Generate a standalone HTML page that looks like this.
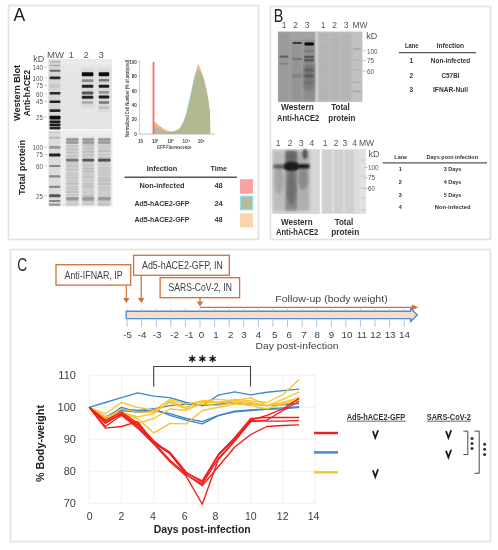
<!DOCTYPE html>
<html><head><meta charset="utf-8"><style>html,body{margin:0;padding:0;background:#fff;width:498px;height:550px;overflow:hidden}svg{display:block;filter:blur(0.35px)}text{font-family:"Liberation Sans",sans-serif}</style></head><body>
<svg width="498" height="550" viewBox="0 0 498 550">
<defs><filter id="b05" x="-30%" y="-150%" width="160%" height="400%"><feGaussianBlur stdDeviation="0.6"/></filter><filter id="b06" x="-30%" y="-150%" width="160%" height="400%"><feGaussianBlur stdDeviation="0.7"/></filter><filter id="b1" x="-30%" y="-200%" width="160%" height="500%"><feGaussianBlur stdDeviation="0.8"/></filter><filter id="b2" x="-40%" y="-60%" width="180%" height="220%"><feGaussianBlur stdDeviation="1.5"/></filter></defs>
<rect width="498" height="550" fill="#fff"/>
<rect x="8.5" y="5.5" width="250.0" height="234.0" fill="none" stroke="#e2e2e2" stroke-width="1.6"/>
<rect x="270.5" y="6.5" width="220.0" height="233.0" fill="none" stroke="#e2e2e2" stroke-width="1.6"/>
<rect x="10.5" y="249.5" width="480.0" height="292.0" fill="none" stroke="#e2e2e2" stroke-width="1.6"/>
<text x="13.5" y="20.6" font-size="17.5" text-anchor="start" font-weight="normal" fill="#222" >A</text>
<rect x="48" y="59" width="64" height="70.5" fill="#e6e6e6"/>
<rect x="48" y="59" width="64" height="6" fill="#eaeaea" filter="url(#b05)"/>
<rect x="48" y="130.5" width="64.5" height="76" fill="#eeeeee"/>
<rect x="48" y="129.3" width="64.5" height="1.4" fill="#f8f8f8"/>
<rect x="49" y="60" width="11.5" height="69" fill="#d6d6d6" filter="url(#b05)"/>
<rect x="49.5" y="61.0" width="11.0" height="1.6" fill="#b5b5b5" opacity="1" filter="url(#b06)" rx="1"/>
<rect x="49.5" y="64.7" width="11.0" height="1.6" fill="#aaa" opacity="1" filter="url(#b06)" rx="1"/>
<rect x="49.5" y="69.75" width="11.0" height="2.1" fill="#666" opacity="1" filter="url(#b06)" rx="1"/>
<rect x="49.5" y="76.60000000000001" width="11.0" height="2.6" fill="#2a2a2a" opacity="1" filter="url(#b06)" rx="1"/>
<rect x="49.5" y="84.4" width="11.0" height="3.6" fill="#c8c8c8" opacity="1" filter="url(#b06)" rx="1"/>
<rect x="49.5" y="92.0" width="11.0" height="2.6" fill="#2a2a2a" opacity="1" filter="url(#b06)" rx="1"/>
<rect x="49.5" y="100.5" width="11.0" height="2.6" fill="#222" opacity="1" filter="url(#b06)" rx="1"/>
<rect x="49.5" y="109.3" width="11.0" height="2.6" fill="#2a2a2a" opacity="1" filter="url(#b06)" rx="1"/>
<rect x="49.5" y="115.8" width="11.0" height="3.6" fill="#0a0a0a" opacity="1" filter="url(#b06)" rx="1"/>
<rect x="49.5" y="120.5" width="11.0" height="2.6" fill="#1a1a1a" opacity="1" filter="url(#b06)" rx="1"/>
<rect x="49.5" y="123.60000000000001" width="11.0" height="2.6" fill="#1a1a1a" opacity="1" filter="url(#b06)" rx="1"/>
<rect x="49.5" y="126.8" width="11.0" height="2.6" fill="#2a2a2a" opacity="1" filter="url(#b06)" rx="1"/>
<rect x="81" y="68" width="13" height="40" fill="#d8d8d8" filter="url(#b1)"/>
<rect x="98" y="68" width="12" height="44" fill="#d8d8d8" filter="url(#b1)"/>
<rect x="81.8" y="72.3" width="11.5" height="4.0" fill="#0a0a0a" opacity="1" filter="url(#b06)" rx="1"/>
<rect x="81.8" y="79.3" width="11.5" height="2.6" fill="#8a8a8a" opacity="1" filter="url(#b06)" rx="1"/>
<rect x="81.8" y="84.7" width="11.5" height="3.0" fill="#222" opacity="1" filter="url(#b06)" rx="1"/>
<rect x="81.8" y="91.5" width="11.5" height="3.0" fill="#555" opacity="1" filter="url(#b06)" rx="1"/>
<rect x="81.8" y="95.7" width="11.5" height="3.0" fill="#222" opacity="1" filter="url(#b06)" rx="1"/>
<rect x="81.8" y="101.2" width="11.5" height="2.6" fill="#aaa" opacity="1" filter="url(#b06)" rx="1"/>
<rect x="98.7" y="72.3" width="10.5" height="4.0" fill="#0a0a0a" opacity="1" filter="url(#b06)" rx="1"/>
<rect x="98.7" y="78.9" width="10.5" height="2.6" fill="#777" opacity="1" filter="url(#b06)" rx="1"/>
<rect x="98.7" y="84.7" width="10.5" height="3.0" fill="#1a1a1a" opacity="1" filter="url(#b06)" rx="1"/>
<rect x="98.7" y="91.10000000000001" width="10.5" height="2.6" fill="#999" opacity="1" filter="url(#b06)" rx="1"/>
<rect x="98.7" y="95.5" width="10.5" height="3.0" fill="#1a1a1a" opacity="1" filter="url(#b06)" rx="1"/>
<rect x="98.7" y="101.2" width="10.5" height="2.6" fill="#777" opacity="1" filter="url(#b06)" rx="1"/>
<rect x="98.7" y="106.55" width="10.5" height="2.1" fill="#bbb" opacity="1" filter="url(#b06)" rx="1"/>
<rect x="49" y="131" width="11.5" height="75" fill="#dcdcdc" filter="url(#b05)"/>
<rect x="49" y="131.7" width="11.5" height="1.6" fill="#c8c8c8" opacity="1" filter="url(#b06)" rx="1"/>
<rect x="49" y="136.64999999999998" width="11.5" height="2.1" fill="#b8b8b8" opacity="1" filter="url(#b06)" rx="1"/>
<rect x="49" y="146.1" width="11.5" height="2.6" fill="#999" opacity="1" filter="url(#b06)" rx="1"/>
<rect x="49" y="153.6" width="11.5" height="3.0" fill="#222" opacity="1" filter="url(#b06)" rx="1"/>
<rect x="49" y="164.9" width="11.5" height="2.2" fill="#888" opacity="1" filter="url(#b06)" rx="1"/>
<rect x="49" y="175.3" width="11.5" height="2.2" fill="#8a8a8a" opacity="1" filter="url(#b06)" rx="1"/>
<rect x="49" y="185.8" width="11.5" height="2.2" fill="#8a8a8a" opacity="1" filter="url(#b06)" rx="1"/>
<rect x="49" y="194.3" width="11.5" height="3.0" fill="#555" opacity="1" filter="url(#b06)" rx="1"/>
<rect x="49" y="199.9" width="11.5" height="2.2" fill="#888" opacity="1" filter="url(#b06)" rx="1"/>
<rect x="49" y="203.6" width="11.5" height="2.2" fill="#999" opacity="1" filter="url(#b06)" rx="1"/>
<rect x="66" y="137.5" width="12.5" height="68" fill="#d3d3d3" filter="url(#b1)"/>
<rect x="66" y="138.5" width="12.5" height="2.0" fill="#bdbdbd" opacity="1" filter="url(#b06)" rx="1"/>
<rect x="66" y="142.03743843273088" width="12.5" height="2.0" fill="#c9c9c9" opacity="1" filter="url(#b06)" rx="1"/>
<rect x="66" y="145.2185598003787" width="12.5" height="2.0" fill="#c2c2c2" opacity="1" filter="url(#b06)" rx="1"/>
<rect x="66" y="148.60408895076827" width="12.5" height="2.0" fill="#c2c2c2" opacity="1" filter="url(#b06)" rx="1"/>
<rect x="66" y="151.44291565106337" width="12.5" height="2.0" fill="#c2c2c2" opacity="1" filter="url(#b06)" rx="1"/>
<rect x="66" y="154.9345605268351" width="12.5" height="2.0" fill="#c6c6c6" opacity="1" filter="url(#b06)" rx="1"/>
<rect x="66" y="157.37955531696548" width="12.5" height="2.0" fill="#c9c9c9" opacity="1" filter="url(#b06)" rx="1"/>
<rect x="66" y="160.28136189861038" width="12.5" height="2.0" fill="#c6c6c6" opacity="1" filter="url(#b06)" rx="1"/>
<rect x="66" y="162.790217514623" width="12.5" height="2.0" fill="#c9c9c9" opacity="1" filter="url(#b06)" rx="1"/>
<rect x="66" y="165.2611501219178" width="12.5" height="2.0" fill="#c2c2c2" opacity="1" filter="url(#b06)" rx="1"/>
<rect x="66" y="168.79808976276678" width="12.5" height="2.0" fill="#c2c2c2" opacity="1" filter="url(#b06)" rx="1"/>
<rect x="66" y="171.89061330110778" width="12.5" height="2.0" fill="#c9c9c9" opacity="1" filter="url(#b06)" rx="1"/>
<rect x="66" y="174.3501204771755" width="12.5" height="2.0" fill="#c6c6c6" opacity="1" filter="url(#b06)" rx="1"/>
<rect x="66" y="176.8060196939168" width="12.5" height="2.0" fill="#c6c6c6" opacity="1" filter="url(#b06)" rx="1"/>
<rect x="66" y="179.55355083751482" width="12.5" height="2.0" fill="#c6c6c6" opacity="1" filter="url(#b06)" rx="1"/>
<rect x="66" y="182.6023739001534" width="12.5" height="2.0" fill="#bdbdbd" opacity="1" filter="url(#b06)" rx="1"/>
<rect x="66" y="185.67468263256876" width="12.5" height="2.0" fill="#c6c6c6" opacity="1" filter="url(#b06)" rx="1"/>
<rect x="66" y="188.19834948750108" width="12.5" height="2.0" fill="#c6c6c6" opacity="1" filter="url(#b06)" rx="1"/>
<rect x="66" y="191.04522653877194" width="12.5" height="2.0" fill="#c2c2c2" opacity="1" filter="url(#b06)" rx="1"/>
<rect x="66" y="194.12246849053201" width="12.5" height="2.0" fill="#c6c6c6" opacity="1" filter="url(#b06)" rx="1"/>
<rect x="66" y="197.1181658846682" width="12.5" height="2.0" fill="#c9c9c9" opacity="1" filter="url(#b06)" rx="1"/>
<rect x="66" y="200.45084041464517" width="12.5" height="2.0" fill="#c9c9c9" opacity="1" filter="url(#b06)" rx="1"/>
<rect x="66" y="203.55351465085434" width="12.5" height="2.0" fill="#c9c9c9" opacity="1" filter="url(#b06)" rx="1"/>
<rect x="66" y="138.3" width="12.5" height="2.4" fill="#999" opacity="1" filter="url(#b06)" rx="1"/>
<rect x="66" y="141.3" width="12.5" height="2.4" fill="#999" opacity="1" filter="url(#b06)" rx="1"/>
<rect x="66" y="158.79999999999998" width="12.5" height="2.8000000000000003" fill="#777" opacity="1" filter="url(#b06)" rx="1"/>
<rect x="66" y="197.0" width="12.5" height="3.6" fill="#9a9a9a" opacity="1" filter="url(#b06)" rx="1"/>
<rect x="82.3" y="137.5" width="11.900000000000006" height="68" fill="#d3d3d3" filter="url(#b1)"/>
<rect x="82.3" y="138.5" width="11.900000000000006" height="2.0" fill="#c6c6c6" opacity="1" filter="url(#b06)" rx="1"/>
<rect x="82.3" y="141.853255377827" width="11.900000000000006" height="2.0" fill="#c6c6c6" opacity="1" filter="url(#b06)" rx="1"/>
<rect x="82.3" y="144.3514813907819" width="11.900000000000006" height="2.0" fill="#bdbdbd" opacity="1" filter="url(#b06)" rx="1"/>
<rect x="82.3" y="147.38171719535566" width="11.900000000000006" height="2.0" fill="#bdbdbd" opacity="1" filter="url(#b06)" rx="1"/>
<rect x="82.3" y="150.65705154268272" width="11.900000000000006" height="2.0" fill="#bdbdbd" opacity="1" filter="url(#b06)" rx="1"/>
<rect x="82.3" y="153.7878023655264" width="11.900000000000006" height="2.0" fill="#c2c2c2" opacity="1" filter="url(#b06)" rx="1"/>
<rect x="82.3" y="156.32948129943236" width="11.900000000000006" height="2.0" fill="#c9c9c9" opacity="1" filter="url(#b06)" rx="1"/>
<rect x="82.3" y="158.92743582380464" width="11.900000000000006" height="2.0" fill="#bdbdbd" opacity="1" filter="url(#b06)" rx="1"/>
<rect x="82.3" y="161.50981726539726" width="11.900000000000006" height="2.0" fill="#c9c9c9" opacity="1" filter="url(#b06)" rx="1"/>
<rect x="82.3" y="164.41585529076934" width="11.900000000000006" height="2.0" fill="#c2c2c2" opacity="1" filter="url(#b06)" rx="1"/>
<rect x="82.3" y="167.7333403302247" width="11.900000000000006" height="2.0" fill="#bdbdbd" opacity="1" filter="url(#b06)" rx="1"/>
<rect x="82.3" y="170.54148716485415" width="11.900000000000006" height="2.0" fill="#bdbdbd" opacity="1" filter="url(#b06)" rx="1"/>
<rect x="82.3" y="173.65473101738016" width="11.900000000000006" height="2.0" fill="#c9c9c9" opacity="1" filter="url(#b06)" rx="1"/>
<rect x="82.3" y="176.1372465566684" width="11.900000000000006" height="2.0" fill="#c2c2c2" opacity="1" filter="url(#b06)" rx="1"/>
<rect x="82.3" y="179.67086387079792" width="11.900000000000006" height="2.0" fill="#c9c9c9" opacity="1" filter="url(#b06)" rx="1"/>
<rect x="82.3" y="182.90731435219024" width="11.900000000000006" height="2.0" fill="#c2c2c2" opacity="1" filter="url(#b06)" rx="1"/>
<rect x="82.3" y="185.3801176653069" width="11.900000000000006" height="2.0" fill="#bdbdbd" opacity="1" filter="url(#b06)" rx="1"/>
<rect x="82.3" y="188.5566722907401" width="11.900000000000006" height="2.0" fill="#c9c9c9" opacity="1" filter="url(#b06)" rx="1"/>
<rect x="82.3" y="191.29818692925306" width="11.900000000000006" height="2.0" fill="#c9c9c9" opacity="1" filter="url(#b06)" rx="1"/>
<rect x="82.3" y="194.76263527993876" width="11.900000000000006" height="2.0" fill="#bdbdbd" opacity="1" filter="url(#b06)" rx="1"/>
<rect x="82.3" y="197.18971079360546" width="11.900000000000006" height="2.0" fill="#c9c9c9" opacity="1" filter="url(#b06)" rx="1"/>
<rect x="82.3" y="200.01626772505386" width="11.900000000000006" height="2.0" fill="#c2c2c2" opacity="1" filter="url(#b06)" rx="1"/>
<rect x="82.3" y="203.00869931852225" width="11.900000000000006" height="2.0" fill="#c6c6c6" opacity="1" filter="url(#b06)" rx="1"/>
<rect x="82.3" y="138.3" width="11.900000000000006" height="2.4" fill="#999" opacity="1" filter="url(#b06)" rx="1"/>
<rect x="82.3" y="141.3" width="11.900000000000006" height="2.4" fill="#999" opacity="1" filter="url(#b06)" rx="1"/>
<rect x="82.3" y="158.79999999999998" width="11.900000000000006" height="2.8000000000000003" fill="#555" opacity="1" filter="url(#b06)" rx="1"/>
<rect x="82.3" y="197.0" width="11.900000000000006" height="3.6" fill="#9a9a9a" opacity="1" filter="url(#b06)" rx="1"/>
<rect x="97.9" y="137.5" width="12.699999999999989" height="68" fill="#d3d3d3" filter="url(#b1)"/>
<rect x="97.9" y="138.5" width="12.699999999999989" height="2.0" fill="#c6c6c6" opacity="1" filter="url(#b06)" rx="1"/>
<rect x="97.9" y="141.78603605551376" width="12.699999999999989" height="2.0" fill="#c9c9c9" opacity="1" filter="url(#b06)" rx="1"/>
<rect x="97.9" y="144.65517569927363" width="12.699999999999989" height="2.0" fill="#c9c9c9" opacity="1" filter="url(#b06)" rx="1"/>
<rect x="97.9" y="147.15187326071378" width="12.699999999999989" height="2.0" fill="#c9c9c9" opacity="1" filter="url(#b06)" rx="1"/>
<rect x="97.9" y="150.03384636831495" width="12.699999999999989" height="2.0" fill="#bdbdbd" opacity="1" filter="url(#b06)" rx="1"/>
<rect x="97.9" y="153.49390696004477" width="12.699999999999989" height="2.0" fill="#c9c9c9" opacity="1" filter="url(#b06)" rx="1"/>
<rect x="97.9" y="156.930688323683" width="12.699999999999989" height="2.0" fill="#bdbdbd" opacity="1" filter="url(#b06)" rx="1"/>
<rect x="97.9" y="160.17836437507881" width="12.699999999999989" height="2.0" fill="#bdbdbd" opacity="1" filter="url(#b06)" rx="1"/>
<rect x="97.9" y="163.39763204634374" width="12.699999999999989" height="2.0" fill="#c9c9c9" opacity="1" filter="url(#b06)" rx="1"/>
<rect x="97.9" y="166.94690949110054" width="12.699999999999989" height="2.0" fill="#c6c6c6" opacity="1" filter="url(#b06)" rx="1"/>
<rect x="97.9" y="169.44649112469415" width="12.699999999999989" height="2.0" fill="#c6c6c6" opacity="1" filter="url(#b06)" rx="1"/>
<rect x="97.9" y="172.1248393648776" width="12.699999999999989" height="2.0" fill="#c6c6c6" opacity="1" filter="url(#b06)" rx="1"/>
<rect x="97.9" y="174.53931503669017" width="12.699999999999989" height="2.0" fill="#c6c6c6" opacity="1" filter="url(#b06)" rx="1"/>
<rect x="97.9" y="177.25461097984842" width="12.699999999999989" height="2.0" fill="#c2c2c2" opacity="1" filter="url(#b06)" rx="1"/>
<rect x="97.9" y="179.829422650798" width="12.699999999999989" height="2.0" fill="#bdbdbd" opacity="1" filter="url(#b06)" rx="1"/>
<rect x="97.9" y="182.9611975731064" width="12.699999999999989" height="2.0" fill="#bdbdbd" opacity="1" filter="url(#b06)" rx="1"/>
<rect x="97.9" y="186.5049150837365" width="12.699999999999989" height="2.0" fill="#c2c2c2" opacity="1" filter="url(#b06)" rx="1"/>
<rect x="97.9" y="189.45288755037996" width="12.699999999999989" height="2.0" fill="#c9c9c9" opacity="1" filter="url(#b06)" rx="1"/>
<rect x="97.9" y="192.33057110704672" width="12.699999999999989" height="2.0" fill="#c9c9c9" opacity="1" filter="url(#b06)" rx="1"/>
<rect x="97.9" y="194.8548156194991" width="12.699999999999989" height="2.0" fill="#c9c9c9" opacity="1" filter="url(#b06)" rx="1"/>
<rect x="97.9" y="197.32951300544153" width="12.699999999999989" height="2.0" fill="#c2c2c2" opacity="1" filter="url(#b06)" rx="1"/>
<rect x="97.9" y="200.91111412634945" width="12.699999999999989" height="2.0" fill="#c9c9c9" opacity="1" filter="url(#b06)" rx="1"/>
<rect x="97.9" y="203.50587795167596" width="12.699999999999989" height="2.0" fill="#bdbdbd" opacity="1" filter="url(#b06)" rx="1"/>
<rect x="97.9" y="138.3" width="12.699999999999989" height="2.4" fill="#999" opacity="1" filter="url(#b06)" rx="1"/>
<rect x="97.9" y="141.3" width="12.699999999999989" height="2.4" fill="#999" opacity="1" filter="url(#b06)" rx="1"/>
<rect x="97.9" y="158.79999999999998" width="12.699999999999989" height="2.8000000000000003" fill="#505050" opacity="1" filter="url(#b06)" rx="1"/>
<rect x="97.9" y="197.0" width="12.699999999999989" height="3.6" fill="#9a9a9a" opacity="1" filter="url(#b06)" rx="1"/>
<text x="55.5" y="57.5" font-size="9" text-anchor="middle" font-weight="normal" fill="#505050" textLength="17" lengthAdjust="spacingAndGlyphs" >MW</text>
<text x="71.2" y="57.5" font-size="9" text-anchor="middle" font-weight="normal" fill="#505050" >1</text>
<text x="86.3" y="57.5" font-size="9" text-anchor="middle" font-weight="normal" fill="#505050" >2</text>
<text x="101.3" y="57.5" font-size="9" text-anchor="middle" font-weight="normal" fill="#505050" >3</text>
<text x="38.7" y="62.2" font-size="9" text-anchor="middle" font-weight="normal" fill="#555" >kD</text>
<text x="43" y="69.6" font-size="7" text-anchor="end" font-weight="normal" fill="#555" textLength="10.5" lengthAdjust="spacingAndGlyphs" >140</text>
<line x1="44.5" y1="67" x2="47" y2="67" stroke="#9ec1e6" stroke-width="0.9"/>
<text x="43" y="80.6" font-size="7" text-anchor="end" font-weight="normal" fill="#555" textLength="10.5" lengthAdjust="spacingAndGlyphs" >100</text>
<line x1="44.5" y1="78" x2="47" y2="78" stroke="#9ec1e6" stroke-width="0.9"/>
<text x="43" y="88.1" font-size="7" text-anchor="end" font-weight="normal" fill="#555" textLength="7" lengthAdjust="spacingAndGlyphs" >75</text>
<line x1="44.5" y1="85.5" x2="47" y2="85.5" stroke="#9ec1e6" stroke-width="0.9"/>
<text x="43" y="96.6" font-size="7" text-anchor="end" font-weight="normal" fill="#555" textLength="7" lengthAdjust="spacingAndGlyphs" >60</text>
<line x1="44.5" y1="94" x2="47" y2="94" stroke="#9ec1e6" stroke-width="0.9"/>
<text x="43" y="104.1" font-size="7" text-anchor="end" font-weight="normal" fill="#555" textLength="7" lengthAdjust="spacingAndGlyphs" >45</text>
<line x1="44.5" y1="101.5" x2="47" y2="101.5" stroke="#9ec1e6" stroke-width="0.9"/>
<text x="43" y="119.6" font-size="7" text-anchor="end" font-weight="normal" fill="#555" textLength="7" lengthAdjust="spacingAndGlyphs" >25</text>
<line x1="44.5" y1="117" x2="47" y2="117" stroke="#9ec1e6" stroke-width="0.9"/>
<text x="43" y="149.6" font-size="7" text-anchor="end" font-weight="normal" fill="#555" textLength="10.5" lengthAdjust="spacingAndGlyphs" >100</text>
<line x1="44.5" y1="147" x2="47" y2="147" stroke="#9ec1e6" stroke-width="0.9"/>
<text x="43" y="157.1" font-size="7" text-anchor="end" font-weight="normal" fill="#555" textLength="7" lengthAdjust="spacingAndGlyphs" >75</text>
<line x1="44.5" y1="154.5" x2="47" y2="154.5" stroke="#9ec1e6" stroke-width="0.9"/>
<text x="43" y="168.6" font-size="7" text-anchor="end" font-weight="normal" fill="#555" textLength="7" lengthAdjust="spacingAndGlyphs" >60</text>
<line x1="44.5" y1="166" x2="47" y2="166" stroke="#9ec1e6" stroke-width="0.9"/>
<text x="43" y="198.6" font-size="7" text-anchor="end" font-weight="normal" fill="#555" textLength="7" lengthAdjust="spacingAndGlyphs" >25</text>
<line x1="44.5" y1="196" x2="47" y2="196" stroke="#9ec1e6" stroke-width="0.9"/>
<text transform="translate(20,93) rotate(-90)" font-size="9" font-weight="bold" text-anchor="middle" fill="#222" textLength="56" lengthAdjust="spacingAndGlyphs">Western Blot</text>
<text transform="translate(29.8,93) rotate(-90)" font-size="9" font-weight="bold" text-anchor="middle" fill="#222" textLength="46.5" lengthAdjust="spacingAndGlyphs">Anti-hACE2</text>
<text transform="translate(25.2,167.5) rotate(-90)" font-size="9" font-weight="bold" text-anchor="middle" fill="#222" textLength="55" lengthAdjust="spacingAndGlyphs">Total protein</text>
<line x1="139.6" y1="60" x2="139.6" y2="134" stroke="#aaa" stroke-width="0.6"/>
<line x1="139.6" y1="134" x2="214" y2="134" stroke="#aaa" stroke-width="0.6"/>
<text x="136.8" y="135.7" font-size="4.6" text-anchor="end" font-weight="bold" fill="#444" >0</text>
<line x1="138.4" y1="134.0" x2="139.6" y2="134.0" stroke="#999" stroke-width="0.5"/>
<text x="136.8" y="121.34" font-size="4.6" text-anchor="end" font-weight="bold" fill="#444" >20</text>
<line x1="138.4" y1="119.64" x2="139.6" y2="119.64" stroke="#999" stroke-width="0.5"/>
<text x="136.8" y="106.98" font-size="4.6" text-anchor="end" font-weight="bold" fill="#444" >40</text>
<line x1="138.4" y1="105.28" x2="139.6" y2="105.28" stroke="#999" stroke-width="0.5"/>
<text x="136.8" y="92.62" font-size="4.6" text-anchor="end" font-weight="bold" fill="#444" >60</text>
<line x1="138.4" y1="90.92" x2="139.6" y2="90.92" stroke="#999" stroke-width="0.5"/>
<text x="136.8" y="78.26" font-size="4.6" text-anchor="end" font-weight="bold" fill="#444" >80</text>
<line x1="138.4" y1="76.56" x2="139.6" y2="76.56" stroke="#999" stroke-width="0.5"/>
<text x="136.8" y="63.900000000000006" font-size="4.6" text-anchor="end" font-weight="bold" fill="#444" >100</text>
<line x1="138.4" y1="62.2" x2="139.6" y2="62.2" stroke="#999" stroke-width="0.5"/>
<text x="140.5" y="143" font-size="4.6" text-anchor="middle" font-weight="bold" fill="#444" >10</text>
<text x="155.3" y="143" font-size="4.6" text-anchor="middle" font-weight="bold" fill="#444" >10²</text>
<text x="170.5" y="143" font-size="4.6" text-anchor="middle" font-weight="bold" fill="#444" >10³</text>
<text x="186.3" y="143" font-size="4.6" text-anchor="middle" font-weight="bold" fill="#444" >10⁴</text>
<text x="201.3" y="143" font-size="4.6" text-anchor="middle" font-weight="bold" fill="#444" >10⁵</text>
<line x1="141.0" y1="134" x2="141.0" y2="134.9" stroke="#bbb" stroke-width="0.4"/>
<line x1="142.9" y1="134" x2="142.9" y2="134.9" stroke="#bbb" stroke-width="0.4"/>
<line x1="144.8" y1="134" x2="144.8" y2="134.9" stroke="#bbb" stroke-width="0.4"/>
<line x1="146.7" y1="134" x2="146.7" y2="134.9" stroke="#bbb" stroke-width="0.4"/>
<line x1="148.6" y1="134" x2="148.6" y2="134.9" stroke="#bbb" stroke-width="0.4"/>
<line x1="150.5" y1="134" x2="150.5" y2="134.9" stroke="#bbb" stroke-width="0.4"/>
<line x1="152.4" y1="134" x2="152.4" y2="134.9" stroke="#bbb" stroke-width="0.4"/>
<line x1="154.3" y1="134" x2="154.3" y2="134.9" stroke="#bbb" stroke-width="0.4"/>
<line x1="156.2" y1="134" x2="156.2" y2="134.9" stroke="#bbb" stroke-width="0.4"/>
<line x1="158.1" y1="134" x2="158.1" y2="134.9" stroke="#bbb" stroke-width="0.4"/>
<line x1="160.0" y1="134" x2="160.0" y2="134.9" stroke="#bbb" stroke-width="0.4"/>
<line x1="161.9" y1="134" x2="161.9" y2="134.9" stroke="#bbb" stroke-width="0.4"/>
<line x1="163.8" y1="134" x2="163.8" y2="134.9" stroke="#bbb" stroke-width="0.4"/>
<line x1="165.7" y1="134" x2="165.7" y2="134.9" stroke="#bbb" stroke-width="0.4"/>
<line x1="167.6" y1="134" x2="167.6" y2="134.9" stroke="#bbb" stroke-width="0.4"/>
<line x1="169.5" y1="134" x2="169.5" y2="134.9" stroke="#bbb" stroke-width="0.4"/>
<line x1="171.4" y1="134" x2="171.4" y2="134.9" stroke="#bbb" stroke-width="0.4"/>
<line x1="173.3" y1="134" x2="173.3" y2="134.9" stroke="#bbb" stroke-width="0.4"/>
<line x1="175.2" y1="134" x2="175.2" y2="134.9" stroke="#bbb" stroke-width="0.4"/>
<line x1="177.1" y1="134" x2="177.1" y2="134.9" stroke="#bbb" stroke-width="0.4"/>
<line x1="179.0" y1="134" x2="179.0" y2="134.9" stroke="#bbb" stroke-width="0.4"/>
<line x1="180.9" y1="134" x2="180.9" y2="134.9" stroke="#bbb" stroke-width="0.4"/>
<line x1="182.8" y1="134" x2="182.8" y2="134.9" stroke="#bbb" stroke-width="0.4"/>
<line x1="184.7" y1="134" x2="184.7" y2="134.9" stroke="#bbb" stroke-width="0.4"/>
<line x1="186.6" y1="134" x2="186.6" y2="134.9" stroke="#bbb" stroke-width="0.4"/>
<line x1="188.5" y1="134" x2="188.5" y2="134.9" stroke="#bbb" stroke-width="0.4"/>
<line x1="190.4" y1="134" x2="190.4" y2="134.9" stroke="#bbb" stroke-width="0.4"/>
<line x1="192.3" y1="134" x2="192.3" y2="134.9" stroke="#bbb" stroke-width="0.4"/>
<line x1="194.2" y1="134" x2="194.2" y2="134.9" stroke="#bbb" stroke-width="0.4"/>
<line x1="196.1" y1="134" x2="196.1" y2="134.9" stroke="#bbb" stroke-width="0.4"/>
<line x1="198.0" y1="134" x2="198.0" y2="134.9" stroke="#bbb" stroke-width="0.4"/>
<line x1="199.9" y1="134" x2="199.9" y2="134.9" stroke="#bbb" stroke-width="0.4"/>
<line x1="201.8" y1="134" x2="201.8" y2="134.9" stroke="#bbb" stroke-width="0.4"/>
<line x1="203.7" y1="134" x2="203.7" y2="134.9" stroke="#bbb" stroke-width="0.4"/>
<line x1="205.6" y1="134" x2="205.6" y2="134.9" stroke="#bbb" stroke-width="0.4"/>
<line x1="207.5" y1="134" x2="207.5" y2="134.9" stroke="#bbb" stroke-width="0.4"/>
<line x1="209.4" y1="134" x2="209.4" y2="134.9" stroke="#bbb" stroke-width="0.4"/>
<line x1="211.3" y1="134" x2="211.3" y2="134.9" stroke="#bbb" stroke-width="0.4"/>
<line x1="213.2" y1="134" x2="213.2" y2="134.9" stroke="#bbb" stroke-width="0.4"/>
<line x1="215.1" y1="134" x2="215.1" y2="134.9" stroke="#bbb" stroke-width="0.4"/>
<text x="174.2" y="149.3" font-size="4.6" text-anchor="middle" font-weight="bold" fill="#444" textLength="34.3" lengthAdjust="spacingAndGlyphs" >GFP-Fluorescence</text>
<text transform="translate(129.2,98.5) rotate(-90)" font-size="4.8" font-weight="bold" text-anchor="middle" fill="#444" textLength="77" lengthAdjust="spacingAndGlyphs">Normalized Cell Number (% of analyzed)</text>
<path d="M153,134 L153,122.51 L154,121.79 L156,122.51 L158,124.67 L161,126.82 L164,128.97 L167,130.41 L170,131.49 L174,131.13 L178,129.69 L181,126.82 L184,121.08 L186.7,113.18 L189,102.41 L191.8,89.48 L194,78.00 L196,70.82 L197.5,65.79 L198.4,64.35 L200,67.94 L202,72.97 L204.2,79.43 L206.5,89.48 L208.5,99.90 L210,113.18 L210.3,134.00 L210.3,134 Z" fill="#f7b57c" opacity="1"/>
<path d="M153,134 L153,125.38 L155,126.82 L158,128.26 L162,130.41 L166,131.13 L170,131.85 L174,131.13 L178,129.69 L181,126.82 L184,121.08 L186.7,113.18 L189,103.13 L191.8,90.92 L194,80.87 L196,73.69 L198,69.38 L200,70.82 L202,75.12 L204.2,81.59 L206.5,90.92 L208.5,101.69 L210,113.90 L210.2,134.00 L210.2,134 Z" fill="#b3b893" opacity="1"/>
<path d="M181,126.82 L184,121.08 L186.7,113.18 L189,103.13 L191.8,90.92 L194,80.87 L196,73.69 L198,69.38" fill="none" stroke="#7fd0df" stroke-width="0.7"/>
<rect x="152.6" y="62" width="1.8" height="72" fill="#f26b6b"/>
<text x="162" y="171.2" font-size="8" text-anchor="middle" font-weight="bold" fill="#333" textLength="30.5" lengthAdjust="spacingAndGlyphs" >Infection</text>
<text x="218.8" y="171.2" font-size="8" text-anchor="middle" font-weight="bold" fill="#333" textLength="16.5" lengthAdjust="spacingAndGlyphs" >Time</text>
<line x1="124.5" y1="177.2" x2="237" y2="177.2" stroke="#555" stroke-width="1.4"/>
<text x="162" y="188.4" font-size="8" text-anchor="middle" font-weight="bold" fill="#333" textLength="45" lengthAdjust="spacingAndGlyphs" >Non-infected</text>
<text x="218.5" y="188.4" font-size="8" text-anchor="middle" font-weight="bold" fill="#333" textLength="8.2" lengthAdjust="spacingAndGlyphs" >48</text>
<text x="162" y="205.6" font-size="8" text-anchor="middle" font-weight="bold" fill="#333" textLength="55" lengthAdjust="spacingAndGlyphs" >Ad5-hACE2-GFP</text>
<text x="218.5" y="205.6" font-size="8" text-anchor="middle" font-weight="bold" fill="#333" textLength="8.2" lengthAdjust="spacingAndGlyphs" >24</text>
<text x="162" y="222.20000000000002" font-size="8" text-anchor="middle" font-weight="bold" fill="#333" textLength="55" lengthAdjust="spacingAndGlyphs" >Ad5-hACE2-GFP</text>
<text x="218.5" y="222.20000000000002" font-size="8" text-anchor="middle" font-weight="bold" fill="#333" textLength="8.2" lengthAdjust="spacingAndGlyphs" >48</text>
<rect x="240" y="179.2" width="13" height="14.5" fill="#fba2a4"/>
<rect x="240.5" y="196.2" width="12.2" height="13.6" fill="#b5bc9c" stroke="#98e0e8" stroke-width="1.2"/>
<rect x="240" y="213.3" width="13" height="14" fill="#fdd4aa"/>
<text x="273.8" y="22.2" font-size="17.5" text-anchor="start" font-weight="normal" fill="#222" textLength="9.6" lengthAdjust="spacingAndGlyphs" >B</text>
<rect x="278" y="31.6" width="37.2" height="70.3" fill="#a3a3a3"/>
<rect x="315.2" y="31.6" width="47.2" height="70.3" fill="#bebebe"/>
<rect x="315.5" y="31.6" width="2.5" height="70.3" fill="#cfcfcf" filter="url(#b05)"/>
<rect x="319.5" y="33" width="9.5" height="68" fill="#b6b6b6" filter="url(#b1)"/>
<rect x="319.5" y="34.45475919545044" width="9.5" height="1.5" fill="#afafaf" opacity="1" filter="url(#b1)" rx="1"/>
<rect x="319.5" y="39.552529864558856" width="9.5" height="1.5" fill="#b3b3b3" opacity="1" filter="url(#b1)" rx="1"/>
<rect x="319.5" y="46.147897517138865" width="9.5" height="1.5" fill="#afafaf" opacity="1" filter="url(#b1)" rx="1"/>
<rect x="319.5" y="49.30100177333229" width="9.5" height="1.5" fill="#b3b3b3" opacity="1" filter="url(#b1)" rx="1"/>
<rect x="319.5" y="55.478137975576956" width="9.5" height="1.5" fill="#b3b3b3" opacity="1" filter="url(#b1)" rx="1"/>
<rect x="319.5" y="60.5188191570678" width="9.5" height="1.5" fill="#b1b1b1" opacity="1" filter="url(#b1)" rx="1"/>
<rect x="319.5" y="65.45455837792402" width="9.5" height="1.5" fill="#b1b1b1" opacity="1" filter="url(#b1)" rx="1"/>
<rect x="319.5" y="69.49568446152439" width="9.5" height="1.5" fill="#b1b1b1" opacity="1" filter="url(#b1)" rx="1"/>
<rect x="319.5" y="76.23620544340943" width="9.5" height="1.5" fill="#b1b1b1" opacity="1" filter="url(#b1)" rx="1"/>
<rect x="319.5" y="80.21079020923129" width="9.5" height="1.5" fill="#b1b1b1" opacity="1" filter="url(#b1)" rx="1"/>
<rect x="319.5" y="84.42176932311233" width="9.5" height="1.5" fill="#b3b3b3" opacity="1" filter="url(#b1)" rx="1"/>
<rect x="319.5" y="90.74934784088487" width="9.5" height="1.5" fill="#afafaf" opacity="1" filter="url(#b1)" rx="1"/>
<rect x="319.5" y="94.77951378343435" width="9.5" height="1.5" fill="#afafaf" opacity="1" filter="url(#b1)" rx="1"/>
<rect x="330.5" y="33" width="9.5" height="68" fill="#b6b6b6" filter="url(#b1)"/>
<rect x="330.5" y="34.57287722105286" width="9.5" height="1.5" fill="#b3b3b3" opacity="1" filter="url(#b1)" rx="1"/>
<rect x="330.5" y="39.66043001340308" width="9.5" height="1.5" fill="#afafaf" opacity="1" filter="url(#b1)" rx="1"/>
<rect x="330.5" y="44.97350491801802" width="9.5" height="1.5" fill="#afafaf" opacity="1" filter="url(#b1)" rx="1"/>
<rect x="330.5" y="50.33634485176423" width="9.5" height="1.5" fill="#b3b3b3" opacity="1" filter="url(#b1)" rx="1"/>
<rect x="330.5" y="55.766285919071876" width="9.5" height="1.5" fill="#b1b1b1" opacity="1" filter="url(#b1)" rx="1"/>
<rect x="330.5" y="61.20700248543795" width="9.5" height="1.5" fill="#b3b3b3" opacity="1" filter="url(#b1)" rx="1"/>
<rect x="330.5" y="65.6423935718156" width="9.5" height="1.5" fill="#b1b1b1" opacity="1" filter="url(#b1)" rx="1"/>
<rect x="330.5" y="70.28679371426553" width="9.5" height="1.5" fill="#b3b3b3" opacity="1" filter="url(#b1)" rx="1"/>
<rect x="330.5" y="74.9613923396459" width="9.5" height="1.5" fill="#b3b3b3" opacity="1" filter="url(#b1)" rx="1"/>
<rect x="330.5" y="80.31518479498575" width="9.5" height="1.5" fill="#afafaf" opacity="1" filter="url(#b1)" rx="1"/>
<rect x="330.5" y="84.90932999009553" width="9.5" height="1.5" fill="#b3b3b3" opacity="1" filter="url(#b1)" rx="1"/>
<rect x="330.5" y="90.47645644562708" width="9.5" height="1.5" fill="#b3b3b3" opacity="1" filter="url(#b1)" rx="1"/>
<rect x="330.5" y="95.86215716957133" width="9.5" height="1.5" fill="#b1b1b1" opacity="1" filter="url(#b1)" rx="1"/>
<rect x="341.5" y="33" width="9.5" height="68" fill="#b6b6b6" filter="url(#b1)"/>
<rect x="341.5" y="35.72974604075143" width="9.5" height="1.5" fill="#b3b3b3" opacity="1" filter="url(#b1)" rx="1"/>
<rect x="341.5" y="39.6498359667903" width="9.5" height="1.5" fill="#b1b1b1" opacity="1" filter="url(#b1)" rx="1"/>
<rect x="341.5" y="44.96112508670991" width="9.5" height="1.5" fill="#b3b3b3" opacity="1" filter="url(#b1)" rx="1"/>
<rect x="341.5" y="51.22920717340614" width="9.5" height="1.5" fill="#b1b1b1" opacity="1" filter="url(#b1)" rx="1"/>
<rect x="341.5" y="55.19448012499771" width="9.5" height="1.5" fill="#b3b3b3" opacity="1" filter="url(#b1)" rx="1"/>
<rect x="341.5" y="60.63504388340024" width="9.5" height="1.5" fill="#b1b1b1" opacity="1" filter="url(#b1)" rx="1"/>
<rect x="341.5" y="65.14445535553345" width="9.5" height="1.5" fill="#afafaf" opacity="1" filter="url(#b1)" rx="1"/>
<rect x="341.5" y="71.22607611640572" width="9.5" height="1.5" fill="#b1b1b1" opacity="1" filter="url(#b1)" rx="1"/>
<rect x="341.5" y="74.41107625097726" width="9.5" height="1.5" fill="#b3b3b3" opacity="1" filter="url(#b1)" rx="1"/>
<rect x="341.5" y="79.70369165346146" width="9.5" height="1.5" fill="#b3b3b3" opacity="1" filter="url(#b1)" rx="1"/>
<rect x="341.5" y="84.92547495967706" width="9.5" height="1.5" fill="#b1b1b1" opacity="1" filter="url(#b1)" rx="1"/>
<rect x="341.5" y="90.49813279487563" width="9.5" height="1.5" fill="#afafaf" opacity="1" filter="url(#b1)" rx="1"/>
<rect x="341.5" y="95.93087105455858" width="9.5" height="1.5" fill="#b1b1b1" opacity="1" filter="url(#b1)" rx="1"/>
<rect x="352.5" y="33" width="9" height="68" fill="#c2c2c2" filter="url(#b05)"/>
<rect x="353" y="47.9" width="8" height="2.2" fill="#acacac" opacity="1" filter="url(#b06)" rx="1"/>
<rect x="353" y="81.10000000000001" width="8" height="2.2" fill="#b2b2b2" opacity="1" filter="url(#b06)" rx="1"/>
<rect x="353" y="90.2" width="8" height="2.2" fill="#adadad" opacity="1" filter="url(#b06)" rx="1"/>
<rect x="353" y="58.9" width="8" height="2.2" fill="#bababa" opacity="1" filter="url(#b06)" rx="1"/>
<rect x="353" y="68.9" width="8" height="2.2" fill="#bababa" opacity="1" filter="url(#b06)" rx="1"/>
<rect x="279" y="33" width="10" height="68" fill="#9a9a9a" filter="url(#b1)"/>
<rect x="291" y="40" width="11" height="61" fill="#959595" filter="url(#b1)"/>
<rect x="303.5" y="40" width="11" height="61" fill="#8d8d8d" filter="url(#b1)"/>
<rect x="304" y="64" width="10" height="26" fill="#7a7a7a" filter="url(#b2)"/>
<rect x="279.5" y="55.6" width="9.0" height="2.2" fill="#606060" opacity="1" filter="url(#b06)" rx="1"/>
<rect x="279.5" y="62.75" width="9.0" height="1.9" fill="#858585" opacity="1" filter="url(#b06)" rx="1"/>
<rect x="292.5" y="41.9" width="9.5" height="2.2" fill="#383838" opacity="1" filter="url(#b06)" rx="1"/>
<rect x="292" y="57.8" width="10" height="2.4" fill="#7a7a7a" opacity="1" filter="url(#b06)" rx="1"/>
<rect x="292" y="74.6" width="10" height="2.4" fill="#7a7a7a" opacity="1" filter="url(#b1)" rx="1"/>
<rect x="304.5" y="42.6" width="9.5" height="2.8000000000000003" fill="#0c0c0c" opacity="1" filter="url(#b06)" rx="1"/>
<rect x="304" y="49.8" width="10" height="2.4" fill="#7a7a7a" opacity="1" filter="url(#b06)" rx="1"/>
<rect x="304" y="55.8" width="10" height="2.4" fill="#5a5a5a" opacity="1" filter="url(#b06)" rx="1"/>
<rect x="304" y="59.0" width="10" height="2.4" fill="#5a5a5a" opacity="1" filter="url(#b06)" rx="1"/>
<rect x="304" y="68.7" width="10" height="2.6" fill="#555" opacity="1" filter="url(#b1)" rx="1"/>
<rect x="304" y="74.7" width="10" height="2.2" fill="#4a4a4a" opacity="1" filter="url(#b1)" rx="1"/>
<rect x="304" y="81.2" width="10" height="2" fill="#6a6a6a" opacity="1" filter="url(#b1)" rx="1"/>
<text x="284" y="27.5" font-size="8.5" text-anchor="middle" font-weight="normal" fill="#555" >1</text>
<text x="295.7" y="27.5" font-size="8.5" text-anchor="middle" font-weight="normal" fill="#555" >2</text>
<text x="307" y="27.5" font-size="8.5" text-anchor="middle" font-weight="normal" fill="#555" >3</text>
<text x="323" y="27.5" font-size="8.5" text-anchor="middle" font-weight="normal" fill="#555" >1</text>
<text x="334.7" y="27.5" font-size="8.5" text-anchor="middle" font-weight="normal" fill="#555" >2</text>
<text x="346" y="27.5" font-size="8.5" text-anchor="middle" font-weight="normal" fill="#555" >3</text>
<text x="360" y="27.5" font-size="8.5" text-anchor="middle" font-weight="normal" fill="#555" >MW</text>
<text x="371.8" y="39.2" font-size="9" text-anchor="middle" font-weight="normal" fill="#555" >kD</text>
<text x="367" y="53.5" font-size="7" text-anchor="start" font-weight="normal" fill="#555" textLength="10.5" lengthAdjust="spacingAndGlyphs" >100</text>
<line x1="362.5" y1="51" x2="366" y2="51" stroke="#9ec1e6" stroke-width="0.9"/>
<text x="367" y="63.2" font-size="7" text-anchor="start" font-weight="normal" fill="#555" textLength="7" lengthAdjust="spacingAndGlyphs" >75</text>
<line x1="362.5" y1="60.7" x2="366" y2="60.7" stroke="#9ec1e6" stroke-width="0.9"/>
<text x="367" y="73.5" font-size="7" text-anchor="start" font-weight="normal" fill="#555" textLength="7" lengthAdjust="spacingAndGlyphs" >60</text>
<line x1="362.5" y1="71" x2="366" y2="71" stroke="#9ec1e6" stroke-width="0.9"/>
<text x="297.4" y="110.4" font-size="8.5" text-anchor="middle" font-weight="bold" fill="#2e2e2e" textLength="32.8" lengthAdjust="spacingAndGlyphs" >Western</text>
<text x="298.1" y="121" font-size="8.5" text-anchor="middle" font-weight="bold" fill="#2e2e2e" textLength="42.2" lengthAdjust="spacingAndGlyphs" >Anti-hACE2</text>
<text x="340.5" y="110.4" font-size="8.5" text-anchor="middle" font-weight="bold" fill="#2e2e2e" textLength="18.7" lengthAdjust="spacingAndGlyphs" >Total</text>
<text x="341.8" y="121" font-size="8.5" text-anchor="middle" font-weight="bold" fill="#2e2e2e" textLength="27.1" lengthAdjust="spacingAndGlyphs" >protein</text>
<rect x="272.2" y="149.2" width="47.6" height="64.7" fill="#d6d6d6"/>
<rect x="321.2" y="149.2" width="44.8" height="64.7" fill="#dcdcdc"/>
<rect x="323" y="150" width="9" height="63" fill="#d0d0d0" filter="url(#b05)"/>
<rect x="334" y="150" width="9" height="63" fill="#d0d0d0" filter="url(#b05)"/>
<rect x="345" y="150" width="9" height="63" fill="#d0d0d0" filter="url(#b05)"/>
<rect x="360" y="149.2" width="6" height="64.7" fill="#e2e2e2"/>
<rect x="360.5" y="159.4" width="5.0" height="1.2" fill="#c0c0c0" opacity="1" filter="url(#b05)" rx="1"/>
<rect x="360.5" y="175.4" width="5.0" height="1.2" fill="#c0c0c0" opacity="1" filter="url(#b05)" rx="1"/>
<rect x="360.5" y="187.4" width="5.0" height="1.2" fill="#c0c0c0" opacity="1" filter="url(#b05)" rx="1"/>
<rect x="360.5" y="197.4" width="5.0" height="1.2" fill="#c0c0c0" opacity="1" filter="url(#b05)" rx="1"/>
<rect x="360.5" y="209.4" width="5.0" height="1.2" fill="#c0c0c0" opacity="1" filter="url(#b05)" rx="1"/>
<rect x="273" y="151" width="12" height="60" fill="#bdbdbd" filter="url(#b2)"/>
<rect x="285" y="151" width="13" height="60" fill="#a0a0a0" filter="url(#b2)"/>
<rect x="297.5" y="151" width="12" height="60" fill="#aeaeae" filter="url(#b2)"/>
<rect x="286" y="152" width="11" height="58" fill="#8a8a8a" filter="url(#b1)"/>
<ellipse cx="291.5" cy="188" rx="4.5" ry="18" fill="#6e6e6e" filter="url(#b2)"/>
<ellipse cx="303" cy="178" rx="5" ry="12" fill="#8a8a8a" filter="url(#b2)"/>
<ellipse cx="279" cy="180" rx="4.5" ry="14" fill="#a5a5a5" filter="url(#b2)"/>
<rect x="286" y="151" width="10.5" height="12" fill="#666" filter="url(#b2)"/>
<ellipse cx="305" cy="154" rx="2.5" ry="5" fill="#555" filter="url(#b1)"/>
<rect x="273.5" y="164.5" width="11.5" height="4" fill="#5a5a5a" opacity="1" filter="url(#b1)" rx="1"/>
<rect x="284.5" y="163.75" width="13.5" height="5.5" fill="#080808" opacity="1" filter="url(#b1)" rx="1"/>
<rect x="297" y="164.2" width="12.5" height="4" fill="#111" opacity="1" filter="url(#b1)" rx="1"/>
<rect x="285.5" y="162" width="12" height="8.5" rx="3" fill="#1a1a1a" filter="url(#b1)"/>
<text x="278" y="146" font-size="8.5" text-anchor="middle" font-weight="normal" fill="#555" >1</text>
<text x="290" y="146" font-size="8.5" text-anchor="middle" font-weight="normal" fill="#555" >2</text>
<text x="301" y="146" font-size="8.5" text-anchor="middle" font-weight="normal" fill="#555" >3</text>
<text x="311.8" y="146" font-size="8.5" text-anchor="middle" font-weight="normal" fill="#555" >4</text>
<text x="325" y="146" font-size="8.5" text-anchor="middle" font-weight="normal" fill="#555" >1</text>
<text x="336" y="146" font-size="8.5" text-anchor="middle" font-weight="normal" fill="#555" >2</text>
<text x="344.8" y="146" font-size="8.5" text-anchor="middle" font-weight="normal" fill="#555" >3</text>
<text x="354.7" y="146" font-size="8.5" text-anchor="middle" font-weight="normal" fill="#555" >4</text>
<text x="366.5" y="146" font-size="8.5" text-anchor="middle" font-weight="normal" fill="#555" >MW</text>
<text x="374" y="157" font-size="9" text-anchor="middle" font-weight="normal" fill="#555" >kD</text>
<text x="368" y="170.0" font-size="7" text-anchor="start" font-weight="normal" fill="#555" textLength="10.5" lengthAdjust="spacingAndGlyphs" >100</text>
<line x1="364" y1="167.5" x2="367.5" y2="167.5" stroke="#9ec1e6" stroke-width="0.9"/>
<text x="368" y="180.3" font-size="7" text-anchor="start" font-weight="normal" fill="#555" textLength="7" lengthAdjust="spacingAndGlyphs" >75</text>
<line x1="364" y1="177.8" x2="367.5" y2="177.8" stroke="#9ec1e6" stroke-width="0.9"/>
<text x="368" y="191.2" font-size="7" text-anchor="start" font-weight="normal" fill="#555" textLength="7" lengthAdjust="spacingAndGlyphs" >60</text>
<line x1="364" y1="188.7" x2="367.5" y2="188.7" stroke="#9ec1e6" stroke-width="0.9"/>
<text x="296.8" y="224.5" font-size="8.5" text-anchor="middle" font-weight="bold" fill="#2e2e2e" textLength="31.6" lengthAdjust="spacingAndGlyphs" >Western</text>
<text x="297.1" y="234.6" font-size="8.5" text-anchor="middle" font-weight="bold" fill="#2e2e2e" textLength="42.2" lengthAdjust="spacingAndGlyphs" >Anti-hACE2</text>
<text x="343.9" y="224.5" font-size="8.5" text-anchor="middle" font-weight="bold" fill="#2e2e2e" textLength="18.5" lengthAdjust="spacingAndGlyphs" >Total</text>
<text x="345.2" y="234.6" font-size="8.5" text-anchor="middle" font-weight="bold" fill="#2e2e2e" textLength="28" lengthAdjust="spacingAndGlyphs" >protein</text>
<text x="411.7" y="47.6" font-size="6.4" text-anchor="middle" font-weight="bold" fill="#333" textLength="13.6" lengthAdjust="spacingAndGlyphs" >Lane</text>
<text x="450.4" y="47.6" font-size="6.4" text-anchor="middle" font-weight="bold" fill="#333" textLength="27.3" lengthAdjust="spacingAndGlyphs" >Infection</text>
<line x1="398.8" y1="52.6" x2="476" y2="52.6" stroke="#555" stroke-width="1.1"/>
<text x="411.3" y="62.5" font-size="6.4" text-anchor="middle" font-weight="bold" fill="#333" >1</text>
<text x="450.5" y="62.5" font-size="6.4" text-anchor="middle" font-weight="bold" fill="#333" textLength="39.3" lengthAdjust="spacingAndGlyphs" >Non-infected</text>
<text x="411.3" y="77.5" font-size="6.4" text-anchor="middle" font-weight="bold" fill="#333" >2</text>
<text x="450.5" y="77.5" font-size="6.4" text-anchor="middle" font-weight="bold" fill="#333" textLength="18" lengthAdjust="spacingAndGlyphs" >C57Bl</text>
<text x="411.3" y="92.3" font-size="6.4" text-anchor="middle" font-weight="bold" fill="#333" >3</text>
<text x="450.5" y="92.3" font-size="6.4" text-anchor="middle" font-weight="bold" fill="#333" textLength="35" lengthAdjust="spacingAndGlyphs" >IFNAR-Null</text>
<text x="400.7" y="159" font-size="5.5" text-anchor="middle" font-weight="bold" fill="#333" textLength="12.7" lengthAdjust="spacingAndGlyphs" >Lane</text>
<text x="452.3" y="159" font-size="5.5" text-anchor="middle" font-weight="bold" fill="#333" textLength="51.8" lengthAdjust="spacingAndGlyphs" >Days post-infection</text>
<line x1="382.6" y1="162.9" x2="487" y2="162.9" stroke="#555" stroke-width="1.1"/>
<text x="400.3" y="171.4" font-size="5.5" text-anchor="middle" font-weight="bold" fill="#333" >1</text>
<text x="452.6" y="171.4" font-size="5.5" text-anchor="middle" font-weight="bold" fill="#333" textLength="17.6" lengthAdjust="spacingAndGlyphs" >3 Days</text>
<text x="400.3" y="184" font-size="5.5" text-anchor="middle" font-weight="bold" fill="#333" >2</text>
<text x="452.6" y="184" font-size="5.5" text-anchor="middle" font-weight="bold" fill="#333" textLength="17.6" lengthAdjust="spacingAndGlyphs" >4 Days</text>
<text x="400.3" y="196.8" font-size="5.5" text-anchor="middle" font-weight="bold" fill="#333" >3</text>
<text x="452.6" y="196.8" font-size="5.5" text-anchor="middle" font-weight="bold" fill="#333" textLength="17.6" lengthAdjust="spacingAndGlyphs" >5 Days</text>
<text x="400.3" y="209.4" font-size="5.5" text-anchor="middle" font-weight="bold" fill="#333" >4</text>
<text x="452.6" y="209.4" font-size="5.5" text-anchor="middle" font-weight="bold" fill="#333" textLength="35.8" lengthAdjust="spacingAndGlyphs" >Non-infected</text>
<text x="17.3" y="270.8" font-size="17.5" text-anchor="start" font-weight="normal" fill="#2a2a2a" textLength="9.9" lengthAdjust="spacingAndGlyphs" >C</text>
<rect x="56" y="264.7" width="74.69999999999999" height="20.400000000000034" fill="#fff" stroke="#d2703a" stroke-width="1.3"/>
<text x="93.6" y="278.59999999999997" font-size="10.2" text-anchor="middle" font-weight="normal" fill="#404040" textLength="58.2" lengthAdjust="spacingAndGlyphs" >Anti-IFNAR, IP</text>
<rect x="133.6" y="255.3" width="95.70000000000002" height="20.0" fill="#fff" stroke="#d2703a" stroke-width="1.3"/>
<text x="182.4" y="269.0" font-size="10.2" text-anchor="middle" font-weight="normal" fill="#404040" textLength="80.80000000000001" lengthAdjust="spacingAndGlyphs" >Ad5-hACE2-GFP, IN</text>
<rect x="160.1" y="277.7" width="79.5" height="20.0" fill="#fff" stroke="#d2703a" stroke-width="1.3"/>
<text x="200.25" y="291.4" font-size="10.2" text-anchor="middle" font-weight="normal" fill="#404040" textLength="63.30000000000001" lengthAdjust="spacingAndGlyphs" >SARS-CoV-2, IN</text>
<line x1="126.3" y1="285.1" x2="126.3" y2="299" stroke="#d2703a" stroke-width="1.2"/>
<path d="M123.1,298 L129.5,298 L126.3,303 Z" fill="#d2703a"/>
<line x1="141.2" y1="275.3" x2="141.2" y2="299" stroke="#d2703a" stroke-width="1.2"/>
<path d="M138.0,298 L144.39999999999998,298 L141.2,303 Z" fill="#d2703a"/>
<line x1="200.0" y1="297.7" x2="200.0" y2="302.5" stroke="#d2703a" stroke-width="1.2"/>
<path d="M196.8,301.5 L203.2,301.5 L200.0,306.5 Z" fill="#d2703a"/>
<line x1="200.0" y1="307.3" x2="413" y2="307.3" stroke="#d2703a" stroke-width="1.2"/>
<path d="M411.9,304.4 L418.3,307.3 L411.9,310.2 Z" fill="#d2703a"/>
<path d="M126.2,311.3 L410.6,311.3 L410.6,308.2 L417.3,315 L410.6,321.6 L410.6,318.6 L126.2,318.6 Z" fill="#f9dccb" stroke="#4a8fd6" stroke-width="1.4"/>
<line x1="127.07" y1="318.7" x2="127.07" y2="327" stroke="#a5c8ea" stroke-width="1"/>
<line x1="127.07" y1="308.5" x2="127.07" y2="311" stroke="#a5c8ea" stroke-width="1"/>
<text x="127.5" y="337.7" font-size="9.8" text-anchor="middle" font-weight="normal" fill="#404040" >-5</text>
<line x1="141.66" y1="318.7" x2="141.66" y2="327" stroke="#a5c8ea" stroke-width="1"/>
<line x1="141.66" y1="308.5" x2="141.66" y2="311" stroke="#a5c8ea" stroke-width="1"/>
<text x="142" y="337.7" font-size="9.8" text-anchor="middle" font-weight="normal" fill="#404040" >-4</text>
<line x1="156.25" y1="318.7" x2="156.25" y2="327" stroke="#a5c8ea" stroke-width="1"/>
<line x1="156.25" y1="308.5" x2="156.25" y2="311" stroke="#a5c8ea" stroke-width="1"/>
<text x="157.2" y="337.7" font-size="9.8" text-anchor="middle" font-weight="normal" fill="#404040" >-3</text>
<line x1="170.83" y1="318.7" x2="170.83" y2="327" stroke="#a5c8ea" stroke-width="1"/>
<line x1="170.83" y1="308.5" x2="170.83" y2="311" stroke="#a5c8ea" stroke-width="1"/>
<text x="174.5" y="337.7" font-size="9.8" text-anchor="middle" font-weight="normal" fill="#404040" >-2</text>
<line x1="185.41" y1="318.7" x2="185.41" y2="327" stroke="#a5c8ea" stroke-width="1"/>
<line x1="185.41" y1="308.5" x2="185.41" y2="311" stroke="#a5c8ea" stroke-width="1"/>
<text x="189.2" y="337.7" font-size="9.8" text-anchor="middle" font-weight="normal" fill="#404040" >-1</text>
<line x1="200.00" y1="318.7" x2="200.00" y2="327" stroke="#a5c8ea" stroke-width="1"/>
<line x1="200.00" y1="308.5" x2="200.00" y2="311" stroke="#a5c8ea" stroke-width="1"/>
<text x="201.5" y="337.7" font-size="9.8" text-anchor="middle" font-weight="normal" fill="#404040" >0</text>
<line x1="214.59" y1="318.7" x2="214.59" y2="327" stroke="#a5c8ea" stroke-width="1"/>
<line x1="214.59" y1="308.5" x2="214.59" y2="311" stroke="#a5c8ea" stroke-width="1"/>
<text x="215.9" y="337.7" font-size="9.8" text-anchor="middle" font-weight="normal" fill="#404040" >1</text>
<line x1="229.17" y1="318.7" x2="229.17" y2="327" stroke="#a5c8ea" stroke-width="1"/>
<line x1="229.17" y1="308.5" x2="229.17" y2="311" stroke="#a5c8ea" stroke-width="1"/>
<text x="230.7" y="337.7" font-size="9.8" text-anchor="middle" font-weight="normal" fill="#404040" >2</text>
<line x1="243.75" y1="318.7" x2="243.75" y2="327" stroke="#a5c8ea" stroke-width="1"/>
<line x1="243.75" y1="308.5" x2="243.75" y2="311" stroke="#a5c8ea" stroke-width="1"/>
<text x="244" y="337.7" font-size="9.8" text-anchor="middle" font-weight="normal" fill="#404040" >3</text>
<line x1="258.34" y1="318.7" x2="258.34" y2="327" stroke="#a5c8ea" stroke-width="1"/>
<line x1="258.34" y1="308.5" x2="258.34" y2="311" stroke="#a5c8ea" stroke-width="1"/>
<text x="258.6" y="337.7" font-size="9.8" text-anchor="middle" font-weight="normal" fill="#404040" >4</text>
<line x1="272.93" y1="318.7" x2="272.93" y2="327" stroke="#a5c8ea" stroke-width="1"/>
<line x1="272.93" y1="308.5" x2="272.93" y2="311" stroke="#a5c8ea" stroke-width="1"/>
<text x="274.7" y="337.7" font-size="9.8" text-anchor="middle" font-weight="normal" fill="#404040" >5</text>
<line x1="287.51" y1="318.7" x2="287.51" y2="327" stroke="#a5c8ea" stroke-width="1"/>
<line x1="287.51" y1="308.5" x2="287.51" y2="311" stroke="#a5c8ea" stroke-width="1"/>
<text x="289.3" y="337.7" font-size="9.8" text-anchor="middle" font-weight="normal" fill="#404040" >6</text>
<line x1="302.10" y1="318.7" x2="302.10" y2="327" stroke="#a5c8ea" stroke-width="1"/>
<line x1="302.10" y1="308.5" x2="302.10" y2="311" stroke="#a5c8ea" stroke-width="1"/>
<text x="304.1" y="337.7" font-size="9.8" text-anchor="middle" font-weight="normal" fill="#404040" >7</text>
<line x1="316.68" y1="318.7" x2="316.68" y2="327" stroke="#a5c8ea" stroke-width="1"/>
<line x1="316.68" y1="308.5" x2="316.68" y2="311" stroke="#a5c8ea" stroke-width="1"/>
<text x="317.2" y="337.7" font-size="9.8" text-anchor="middle" font-weight="normal" fill="#404040" >8</text>
<line x1="331.26" y1="318.7" x2="331.26" y2="327" stroke="#a5c8ea" stroke-width="1"/>
<line x1="331.26" y1="308.5" x2="331.26" y2="311" stroke="#a5c8ea" stroke-width="1"/>
<text x="331.5" y="337.7" font-size="9.8" text-anchor="middle" font-weight="normal" fill="#404040" >9</text>
<line x1="345.85" y1="318.7" x2="345.85" y2="327" stroke="#a5c8ea" stroke-width="1"/>
<line x1="345.85" y1="308.5" x2="345.85" y2="311" stroke="#a5c8ea" stroke-width="1"/>
<text x="347" y="337.7" font-size="9.8" text-anchor="middle" font-weight="normal" fill="#404040" >10</text>
<line x1="360.44" y1="318.7" x2="360.44" y2="327" stroke="#a5c8ea" stroke-width="1"/>
<line x1="360.44" y1="308.5" x2="360.44" y2="311" stroke="#a5c8ea" stroke-width="1"/>
<text x="361.9" y="337.7" font-size="9.8" text-anchor="middle" font-weight="normal" fill="#404040" >11</text>
<line x1="375.02" y1="318.7" x2="375.02" y2="327" stroke="#a5c8ea" stroke-width="1"/>
<line x1="375.02" y1="308.5" x2="375.02" y2="311" stroke="#a5c8ea" stroke-width="1"/>
<text x="375.7" y="337.7" font-size="9.8" text-anchor="middle" font-weight="normal" fill="#404040" >12</text>
<line x1="389.61" y1="318.7" x2="389.61" y2="327" stroke="#a5c8ea" stroke-width="1"/>
<line x1="389.61" y1="308.5" x2="389.61" y2="311" stroke="#a5c8ea" stroke-width="1"/>
<text x="390.1" y="337.7" font-size="9.8" text-anchor="middle" font-weight="normal" fill="#404040" >13</text>
<line x1="404.19" y1="318.7" x2="404.19" y2="327" stroke="#a5c8ea" stroke-width="1"/>
<line x1="404.19" y1="308.5" x2="404.19" y2="311" stroke="#a5c8ea" stroke-width="1"/>
<text x="404.4" y="337.7" font-size="9.8" text-anchor="middle" font-weight="normal" fill="#404040" >14</text>
<text x="331.5" y="301.5" font-size="9.5" text-anchor="middle" font-weight="normal" fill="#444" textLength="112.5" lengthAdjust="spacingAndGlyphs" >Follow-up (body weight)</text>
<text x="297" y="349.3" font-size="9.5" text-anchor="middle" font-weight="normal" fill="#444" textLength="83" lengthAdjust="spacingAndGlyphs" >Day post-infection</text>
<line x1="89.2" y1="503.3" x2="315.29999999999995" y2="503.3" stroke="#ececec" stroke-width="0.8"/>
<line x1="89.2" y1="471.3" x2="315.29999999999995" y2="471.3" stroke="#ececec" stroke-width="0.8"/>
<line x1="89.2" y1="439.3" x2="315.29999999999995" y2="439.3" stroke="#ececec" stroke-width="0.8"/>
<line x1="89.2" y1="407.3" x2="315.29999999999995" y2="407.3" stroke="#ececec" stroke-width="0.8"/>
<line x1="89.2" y1="375.3" x2="315.29999999999995" y2="375.3" stroke="#ececec" stroke-width="0.8"/>
<line x1="89.2" y1="375.3" x2="89.2" y2="503.3" stroke="#ececec" stroke-width="0.8"/>
<line x1="121.5" y1="375.3" x2="121.5" y2="503.3" stroke="#ececec" stroke-width="0.8"/>
<line x1="153.8" y1="375.3" x2="153.8" y2="503.3" stroke="#ececec" stroke-width="0.8"/>
<line x1="186.1" y1="375.3" x2="186.1" y2="503.3" stroke="#ececec" stroke-width="0.8"/>
<line x1="218.39999999999998" y1="375.3" x2="218.39999999999998" y2="503.3" stroke="#ececec" stroke-width="0.8"/>
<line x1="250.7" y1="375.3" x2="250.7" y2="503.3" stroke="#ececec" stroke-width="0.8"/>
<line x1="283.0" y1="375.3" x2="283.0" y2="503.3" stroke="#ececec" stroke-width="0.8"/>
<line x1="315.29999999999995" y1="375.3" x2="315.29999999999995" y2="503.3" stroke="#ececec" stroke-width="0.8"/>
<text x="75.9" y="506.6" font-size="11" text-anchor="end" font-weight="normal" fill="#404040" >70</text>
<text x="75.9" y="474.6" font-size="11" text-anchor="end" font-weight="normal" fill="#404040" >80</text>
<text x="75.9" y="442.6" font-size="11" text-anchor="end" font-weight="normal" fill="#404040" >90</text>
<text x="75.9" y="410.6" font-size="11" text-anchor="end" font-weight="normal" fill="#404040" >100</text>
<text x="75.9" y="378.6" font-size="11" text-anchor="end" font-weight="normal" fill="#404040" >110</text>
<text x="89.6" y="520" font-size="10.5" text-anchor="middle" font-weight="normal" fill="#404040" >0</text>
<text x="121.4" y="520" font-size="10.5" text-anchor="middle" font-weight="normal" fill="#404040" >2</text>
<text x="152.8" y="520" font-size="10.5" text-anchor="middle" font-weight="normal" fill="#404040" >4</text>
<text x="184.6" y="520" font-size="10.5" text-anchor="middle" font-weight="normal" fill="#404040" >6</text>
<text x="215.4" y="520" font-size="10.5" text-anchor="middle" font-weight="normal" fill="#404040" >8</text>
<text x="250.8" y="520" font-size="10.5" text-anchor="middle" font-weight="normal" fill="#404040" >10</text>
<text x="282.7" y="520" font-size="10.5" text-anchor="middle" font-weight="normal" fill="#404040" >12</text>
<text x="313.5" y="520" font-size="10.5" text-anchor="middle" font-weight="normal" fill="#404040" >14</text>
<text x="202.2" y="532.8" font-size="10" text-anchor="middle" font-weight="bold" fill="#222" textLength="97" lengthAdjust="spacingAndGlyphs" >Days post-infection</text>
<text transform="translate(43.8,443.5) rotate(-90)" font-size="10.5" font-weight="bold" text-anchor="middle" fill="#222" textLength="77" lengthAdjust="spacingAndGlyphs">% Body-weight</text>
<path d="M153.7,386.4 L153.7,366.5 L250.5,366.5 L250.5,386.4" fill="none" stroke="#444" stroke-width="1.1"/>
<path d="M192.20,355.30 L192.20,362.30 M189.17,357.05 L195.23,360.55 M189.17,360.55 L195.23,357.05 " stroke="#1a1a1a" stroke-width="1.4" stroke-linecap="butt"/>
<circle cx="192.2" cy="358.8" r="1.2" fill="#111"/>
<path d="M202.40,355.30 L202.40,362.30 M199.37,357.05 L205.43,360.55 M199.37,360.55 L205.43,357.05 " stroke="#1a1a1a" stroke-width="1.4" stroke-linecap="butt"/>
<circle cx="202.4" cy="358.8" r="1.2" fill="#111"/>
<path d="M212.60,355.30 L212.60,362.30 M209.57,357.05 L215.63,360.55 M209.57,360.55 L215.63,357.05 " stroke="#1a1a1a" stroke-width="1.4" stroke-linecap="butt"/>
<circle cx="212.6" cy="358.8" r="1.2" fill="#111"/>
<path d="M89.20,407.30 L105.35,402.50 L121.50,397.70 L137.65,392.90 L153.80,396.10 L169.95,397.70 L186.10,402.50 L202.25,405.70 L218.40,395.14 L234.55,391.94 L250.70,394.82 L266.85,392.26 L283.00,390.66 L299.15,389.06" fill="none" stroke="#3d85d1" stroke-width="1.35" stroke-linejoin="round"/>
<path d="M89.20,407.30 L105.35,416.90 L121.50,410.50 L137.65,412.10 L153.80,408.90 L169.95,405.70 L186.10,404.10 L202.25,405.70 L218.40,404.10 L234.55,402.50 L250.70,404.10 L266.85,405.70 L283.00,404.74 L299.15,403.46" fill="none" stroke="#3d85d1" stroke-width="1.35" stroke-linejoin="round"/>
<path d="M89.20,407.30 L105.35,418.50 L121.50,407.30 L137.65,412.10 L153.80,410.50 L169.95,413.70 L186.10,418.50 L202.25,421.70 L218.40,415.30 L234.55,411.14 L250.70,409.86 L266.85,408.90 L283.00,407.94 L299.15,406.66" fill="none" stroke="#3d85d1" stroke-width="1.35" stroke-linejoin="round"/>
<path d="M89.20,407.30 L105.35,416.90 L121.50,408.90 L137.65,410.50 L153.80,408.90 L169.95,415.30 L186.10,420.10 L202.25,423.94 L218.40,415.62 L234.55,411.78 L250.70,410.50 L266.85,409.22 L283.00,408.90 L299.15,407.30" fill="none" stroke="#3d85d1" stroke-width="1.35" stroke-linejoin="round"/>
<path d="M89.20,407.30 L105.35,413.70 L121.50,402.50 L137.65,407.30 L153.80,410.50 L169.95,399.30 L186.10,404.10 L202.25,400.90 L218.40,402.50 L234.55,399.30 L250.70,400.90 L266.85,402.50 L283.00,394.50 L299.15,379.46" fill="none" stroke="#f9c32a" stroke-width="1.35" stroke-linejoin="round"/>
<path d="M89.20,407.30 L105.35,418.50 L121.50,408.90 L137.65,412.10 L153.80,412.10 L169.95,402.50 L186.10,408.90 L202.25,404.10 L218.40,405.70 L234.55,402.50 L250.70,404.10 L266.85,405.70 L283.00,399.30 L299.15,391.94" fill="none" stroke="#f9c32a" stroke-width="1.35" stroke-linejoin="round"/>
<path d="M89.20,407.30 L105.35,420.10 L121.50,413.70 L137.65,418.50 L153.80,432.90 L169.95,423.30 L186.10,423.94 L202.25,410.50 L218.40,407.30 L234.55,404.10 L250.70,405.70 L266.85,408.90 L283.00,404.10 L299.15,400.90" fill="none" stroke="#f9c32a" stroke-width="1.35" stroke-linejoin="round"/>
<path d="M89.20,407.30 L105.35,416.90 L121.50,412.10 L137.65,416.90 L153.80,413.70 L169.95,400.90 L186.10,407.30 L202.25,400.90 L218.40,399.30 L234.55,400.90 L250.70,402.50 L266.85,405.70 L283.00,404.10 L299.15,399.30" fill="none" stroke="#f9c32a" stroke-width="1.35" stroke-linejoin="round"/>
<path d="M89.20,407.30 L105.35,421.70 L121.50,413.70 L137.65,423.30 L153.80,418.50 L169.95,408.90 L186.10,410.50 L202.25,402.50 L218.40,402.50 L234.55,400.90 L250.70,397.70 L266.85,405.70 L283.00,402.50 L299.15,397.70" fill="none" stroke="#f9c32a" stroke-width="1.35" stroke-linejoin="round"/>
<path d="M89.20,407.30 L105.35,423.30 L121.50,413.70 L137.65,426.50 L153.80,443.14 L169.95,453.70 L186.10,472.90 L202.25,480.90 L218.40,454.34 L234.55,437.70 L250.70,418.50 L266.85,417.54 L283.00,417.54 L299.15,417.54" fill="none" stroke="#f21d1d" stroke-width="1.35" stroke-linejoin="round"/>
<path d="M89.20,407.30 L105.35,420.10 L121.50,412.10 L137.65,423.30 L153.80,440.90 L169.95,453.70 L186.10,474.50 L202.25,484.10 L218.40,458.50 L234.55,440.90 L250.70,420.10 L266.85,415.30 L283.00,408.90 L299.15,398.34" fill="none" stroke="#f21d1d" stroke-width="1.35" stroke-linejoin="round"/>
<path d="M89.20,407.30 L105.35,426.50 L121.50,415.30 L137.65,428.10 L153.80,444.10 L169.95,461.70 L186.10,476.10 L202.25,504.26 L218.40,459.46 L234.55,441.22 L250.70,421.70 L266.85,420.10 L283.00,410.50 L299.15,401.22" fill="none" stroke="#f21d1d" stroke-width="1.35" stroke-linejoin="round"/>
<path d="M89.20,407.30 L105.35,421.70 L121.50,414.34 L137.65,424.90 L153.80,442.50 L169.95,460.10 L186.10,474.50 L202.25,485.70 L218.40,466.50 L234.55,447.30 L250.70,434.50 L266.85,426.50 L283.00,425.54 L299.15,424.90" fill="none" stroke="#f21d1d" stroke-width="1.35" stroke-linejoin="round"/>
<path d="M89.20,407.30 L105.35,428.10 L121.50,426.50 L137.65,421.70 L153.80,442.50 L169.95,452.10 L186.10,471.94 L202.25,482.50 L218.40,455.30 L234.55,439.30 L250.70,420.74 L266.85,421.06 L283.00,421.06 L299.15,420.42" fill="none" stroke="#f21d1d" stroke-width="1.35" stroke-linejoin="round"/>
<text x="376" y="420.3" font-size="9.4" text-anchor="middle" font-weight="bold" fill="#333" textLength="58.5" lengthAdjust="spacingAndGlyphs" >Ad5-hACE2-GFP</text>
<line x1="347" y1="421.2" x2="405.5" y2="421.2" stroke="#444" stroke-width="0.8"/>
<text x="448.8" y="420.3" font-size="9.4" text-anchor="middle" font-weight="bold" fill="#333" textLength="44" lengthAdjust="spacingAndGlyphs" >SARS-CoV-2</text>
<line x1="427" y1="421.2" x2="470.8" y2="421.2" stroke="#444" stroke-width="0.8"/>
<line x1="314" y1="433" x2="338" y2="433" stroke="#f21d1d" stroke-width="2.4"/>
<line x1="314" y1="452.4" x2="338" y2="452.4" stroke="#3d85d1" stroke-width="2.4"/>
<line x1="314" y1="472.3" x2="338" y2="472.3" stroke="#f9c32a" stroke-width="2.4"/>
<path d="M372.9,431.09999999999997 L375.3,437.79999999999995 L378.1,430.2" fill="none" stroke="#1a1a1a" stroke-width="1.75" stroke-linejoin="miter"/>
<path d="M372.9,470.2 L375.3,476.9 L378.1,469.3" fill="none" stroke="#1a1a1a" stroke-width="1.75" stroke-linejoin="miter"/>
<path d="M446.0,431.09999999999997 L448.40000000000003,437.79999999999995 L451.20000000000005,430.2" fill="none" stroke="#1a1a1a" stroke-width="1.75" stroke-linejoin="miter"/>
<path d="M446.0,450.7 L448.40000000000003,457.4 L451.20000000000005,449.8" fill="none" stroke="#1a1a1a" stroke-width="1.75" stroke-linejoin="miter"/>
<path d="M463.4,431.1 L467.8,431.1 L467.8,454.5 L463.4,454.5" fill="none" stroke="#333" stroke-width="0.9"/>
<path d="M474.5,431.1 L479.2,431.1 L479.2,473.3 L474.5,473.3" fill="none" stroke="#333" stroke-width="0.9"/>
<circle cx="472" cy="438.5" r="1.5" fill="#333"/>
<circle cx="472" cy="443.6" r="1.5" fill="#333"/>
<circle cx="472" cy="448.5" r="1.5" fill="#333"/>
<circle cx="484.6" cy="444.2" r="1.5" fill="#333"/>
<circle cx="484.6" cy="449.2" r="1.5" fill="#333"/>
<circle cx="484.6" cy="454.4" r="1.5" fill="#333"/>
</svg>
</body></html>
